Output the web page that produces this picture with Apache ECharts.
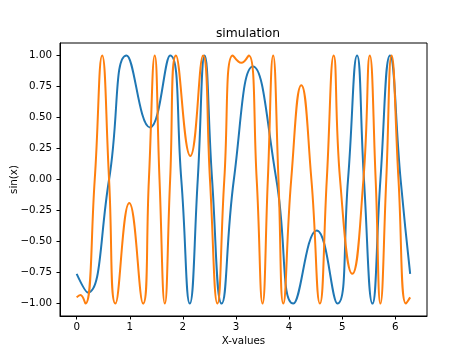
<!DOCTYPE html>
<html>
<head>
<meta charset="utf-8">
<script src="https://cdn.jsdelivr.net/npm/echarts@6/dist/echarts.min.js"></script>
<style>html,body{margin:0;padding:0;background:#fff}#c{width:474px;height:355px}</style>
</head>
<body>
<div id="c"></div>
<script>
const xTicks = [0, 1, 2, 3, 4, 5, 6];
const yTicks = [-1, -0.75, -0.5, -0.25, 0, 0.25, 0.5, 0.75, 1];

const blueX = [0.00, 0.21, 0.61, 0.94, 1.38, 1.76, 1.97, 2.13, 2.28, 2.41, 2.55, 2.73, 2.96, 3.32, 3.76, 4.08, 4.52, 4.91, 5.11, 5.28, 5.41, 5.57, 5.72, 5.90, 6.10, 6.28];
const blueY = [-0.76, -0.91, 0, 1, 0.42, 1, 0, -1, 0, 1, 0, -1, 0, 0.91, 0, -1, -0.41, -1, 0, 1, 0, -1, 0, 1, 0, -0.76];

const orangeX = [0.00, 0.07, 0.165, 0.34, 0.48, 0.61, 0.73, 0.99, 1.25, 1.36, 1.47, 1.56, 1.66, 1.76, 1.87, 2.14, 2.38, 2.51, 2.65, 2.78, 2.94, 3.10, 3.24, 3.39, 3.50, 3.60, 3.70, 3.80, 3.89, 4.04, 4.23, 4.42, 4.58, 4.71, 4.84, 4.96, 5.19, 5.40, 5.52, 5.63, 5.72, 5.83, 5.93, 6.06, 6.20, 6.28];
const orangeY = [-0.95, -0.93, -1, 0, 1, 0, -1, -0.19, -1, 0, 1, 0, -1, 0, 1, 0.19, 1, 0, -1, 0, 1, 0.94, 1, 0, -1, 0, 1, 0, -1, 0, 0.76, 0, -1, 0, 1, 0, -0.76, 0, 1, 0, -1, 0, 1, 0, -1, -0.95];

const zip = (xs, ys) => xs.map((x, i) => [x, ys[i]]);
const font = 'DejaVu Sans';
const fmtY = v => (v < 0 ? '\u2212' : '') + Math.abs(v).toFixed(2);

const chart = echarts.init(document.getElementById('c'), null, {renderer: 'canvas'});
chart.setOption({
  animation: false,
  backgroundColor: '#fff',
  title: {
    text: 'simulation', left: 243, top: 23, textAlign: 'center',
    textStyle: {fontFamily: font, fontSize: 12.3, fontWeight: 'normal', color: '#000'}
  },
  grid: {left: 60, right: 47, top: 43, bottom: 39, containLabel: false, outerBoundsMode: 'none',
         show: true, borderColor: '#000', borderWidth: 1, backgroundColor: '#fff'},
  xAxis: {
    type: 'value', min: -0.314, max: 6.597,
    name: 'X-values', nameLocation: 'middle', nameGap: 20, nameMoveOverlap: false,
    nameTextStyle: {fontFamily: font, fontSize: 10.3, color: '#000'},
    axisLine: {show: true, onZero: false, lineStyle: {color: '#000', width: 1}},
    axisTick: {show: true, length: 3.5, lineStyle: {color: '#000'}, customValues: xTicks},
    axisLabel: {fontFamily: font, fontSize: 10.3, color: '#000', margin: 6, customValues: xTicks, formatter: v => String(v)},
    splitLine: {show: false}
  },
  yAxis: {
    type: 'value', min: -1.1, max: 1.1,
    name: 'sin(x)', nameLocation: 'middle', nameGap: 41, nameRotate: 90, nameMoveOverlap: false,
    nameTextStyle: {fontFamily: font, fontSize: 10.3, color: '#000'},
    axisLine: {show: true, onZero: false, lineStyle: {color: '#000', width: 1}},
    axisTick: {show: true, length: 3.5, lineStyle: {color: '#000'}, customValues: yTicks},
    axisLabel: {fontFamily: font, fontSize: 10.3, color: '#000', margin: 8, customValues: yTicks, formatter: fmtY},
    splitLine: {show: false}
  },
  series: [
    {type: 'line', data: zip(blueX, blueY), showSymbol: false, smooth: 0.5, lineStyle: {color: '#1f77b4', width: 2}, z: 2},
    {type: 'line', data: zip(orangeX, orangeY), showSymbol: false, smooth: 0.5, lineStyle: {color: '#ff7f0e', width: 2}, z: 3}
  ]
});
</script>
</body>
</html>
